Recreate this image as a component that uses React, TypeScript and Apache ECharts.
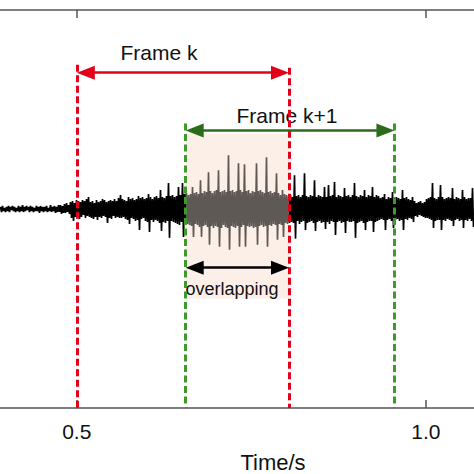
import React, { useEffect, useRef } from "react";
import * as echarts from "echarts";

// Time axis
const X_MIN = 0.39;
const X_MAX = 1.069;
const TICKS = [0.5, 1.0];
const SAMPLE_STEP = (X_MAX - X_MIN) / 474; // seconds per sample

// Frame boundaries (s)
const FRAME_K = [0.5, 0.804];
const FRAME_K1 = [0.656, 0.955];

// Waveform samples (arbitrary amplitude units)
const wavA = [2,-3,3,-2,1,-3,2,-2,3,-3,2,-1,3,-2,2,-3,1,-2,3,-3,2,-2,4,-3,2,-2,3,-1,2,-3,3,-2,2,-3,1,-2,3,-2,2,-4,3,-2,2,-3,2,-2,3,-3,1,-2,4,-3,2,-2,3,-4,2,-3,4,-3];
const wavB = [4,-5,3,-4,5,-4,6,-3,4,-5,
  7,-9,8,-12,6,-8,9,-7,8,-10,
  7,-8,9,-6,8,-9,10,-7,12,-8,
  7,-9,8,-10,6,-8,9,-11,7,-8,
  8,-9,10,-7,9,-8,7,-14,8,-9,
  9,-10,8,-7,10,-9,8,-8,11,-9];
const wavC = [14,-9,10,-8,9,-10,8,-11,12,-15,
  10,-9,11,-10,9,-12,10,-11,13,-21,
  11,-10,12,-9,10,-12,11,-13,15,-23,
  12,-11,10,-13,12,-11,13,-12,11,-14,
  19,-22,12,-13,11,-14,13,-12,26,-29,
  13,-12,14,-13,12,-14,13,-15,22,-16,
  14,-13,26,-28,15,-14];
const wavD = [16,-15,14,-16,15,-17,22,-28,16,-15,
  17,-16,15,-18,29,-28,16,-17,18,-16,
  17,-18,37,-36,18,-17,16,-19,18,-17,
  19,-18,39,-38,17,-19,18,-16,19,-18,
  17,-19,54,-41,18,-17,19,-18,17,-19,
  18,-17,46,-38,19,-18,17,-16,45,-38,
  18,-17,19,-18,16,-17,18,-19,17,-18,
  46,-36,18,-17,19,-16,17,-18,16,-17,
  52,-38,17,-16,18,-17,16,-15,17,-16,
  36,-31,16,-15,14,-16,19,-28,15,-14,
  14,-15,13,-14];
const wavE = [14,-13,12,-14,34,-30,13,-12,14,-15,
  12,-13,14,-12,36,-21,13,-14,12,-13,
  14,-12,13,-14,29,-22,12,-13,14,-12,
  13,-14,12,-13,22,-20,12,-13,24,-15,
  13,-12,14,-13,27,-26,12,-13,14,-12,
  13,-14,12,-13,21,-24,13,-12,14,-13,
  12,-13,14,-12,26,-29,13,-14,12,-13,
  14,-12,13,-14,19,-21,12,-13,14,-12,
  13,-12,22,-23,12,-13,14,-12,13,-11];
const wavF = [11,-10,12,-11,15,-21,10,-11,12,-10,
  11,-12,17,-19,10,-11,12,-10,11,-12,
  10,-11,19,-21,11,-10,12,-11,10,-9,
  9,-10,12,-13,8,-7,6,-8,7,-6,
  8,-7,6,-8,7,-9,10,-9,11,-10,
  12,-11,26,-19,11,-12,10,-11,12,-11,
  24,-21,12,-11,10,-12,11,-10,12,-11,
  11,-12,21,-17,10,-11,12,-10,11,-12,
  10,-11,19,-19,12,-11,10,-12,11,-10,
  11,-12,21,-18];

const FONT = "'Liberation Sans', Arial, sans-serif";

export default function App() {
  const ref = useRef<HTMLDivElement>(null);
  useEffect(() => {
    if (!ref.current) return;
    const chart = echarts.init(ref.current, null, { renderer: "svg" });
    const samples = [...wavA, ...wavB, ...wavC, ...wavD, ...wavE, ...wavF];
    const wave = samples.map((v, i) => [X_MIN + (i + 0.5) * SAMPLE_STEP, v]);

    const red = "#e2001a";
    const green = "#3f9a2c";
    const darkGreen = "#2c6a1c";
    const dash = [7, 3.5];
    const ARROW = [14, 18];
    // half the arrowhead length, in seconds, so the tips touch the frame edges
    const tipPad = (ARROW[1] / 2) * SAMPLE_STEP;

    const vLine = (x: number, top: number, color: string) => [
      { coord: [x, top], lineStyle: { color, width: 3, type: dash } },
      { coord: [x, -200] },
    ];
    const arrow = (x0: number, x1: number, y: number, color: string) => [
      { coord: [x0 + tipPad, y], lineStyle: { color, width: 2.5, type: "solid" }, itemStyle: { color } },
      { coord: [x1 - tipPad, y], itemStyle: { color } },
    ];

    const axisCommon = {
      type: "value",
      min: X_MIN,
      max: X_MAX,
      splitLine: { show: false },
      axisLine: { show: true, onZero: false, lineStyle: { color: "#555", width: 1.5 } },
      axisTick: { show: true, inside: true, length: 8, customValues: TICKS, lineStyle: { color: "#555", width: 1.5 } },
    };

    chart.setOption({
      animation: false,
      grid: { left: 0, right: 0, top: 10, bottom: 66 },
      xAxis: [
        {
          ...axisCommon,
          position: "bottom",
          axisLabel: {
            customValues: TICKS,
            formatter: (v: number) => v.toFixed(1),
            fontSize: 21,
            color: "#111",
            fontFamily: FONT,
            margin: 13,
          },
        },
        { ...axisCommon, position: "top", axisLabel: { show: false } },
      ],
      yAxis: { type: "value", min: -200, max: 200, show: false },
      visualMap: {
        type: "piecewise",
        show: false,
        dimension: 0,
        seriesIndex: 1,
        pieces: [
          { lt: FRAME_K1[0], color: "#000" },
          { gte: FRAME_K1[0], lte: FRAME_K[1], color: "#5f5956" },
          { gt: FRAME_K[1], color: "#000" },
        ],
      },
      series: [
        {
          type: "line",
          data: [],
          z: 1,
          silent: true,
          markArea: {
            silent: true,
            itemStyle: { color: "#fcefe8" },
            data: [[{ coord: [FRAME_K1[0], 76] }, { coord: [FRAME_K[1], -90] }]],
          },
        },
        {
          type: "line",
          data: wave,
          z: 2,
          showSymbol: false,
          symbol: "none",
          lineStyle: { width: 1.7 },
        },
        {
          type: "line",
          data: [],
          z: 5,
          markLine: {
            silent: true,
            symbol: "none",
            label: { show: false },
            data: [
              vLine(FRAME_K[0], 145, red),
              vLine(FRAME_K[1], 142, red),
              vLine(FRAME_K1[0], 86, green),
              vLine(FRAME_K1[1], 86, green),
            ],
          },
        },
        {
          type: "line",
          data: [],
          z: 6,
          markLine: {
            silent: true,
            symbol: ["triangle", "triangle"],
            symbolSize: ARROW,
            label: { show: false },
            data: [
              arrow(FRAME_K[0], FRAME_K[1], 137, red),
              arrow(FRAME_K1[0], FRAME_K1[1], 79, darkGreen),
              arrow(FRAME_K1[0], FRAME_K[1], -59, "#000"),
            ],
          },
        },
      ],
      graphic: [
        { type: "text", z: 3, x: 159, y: 52, style: { text: "Frame k", fontSize: 21, fontFamily: FONT, fill: "#111", align: "center", verticalAlign: "middle" } },
        { type: "text", z: 3, x: 287, y: 115, style: { text: "Frame k+1", fontSize: 21, fontFamily: FONT, fill: "#111", align: "center", verticalAlign: "middle" } },
        { type: "text", z: 3, x: 232, y: 289, style: { text: "overlapping", fontSize: 18, fontFamily: FONT, fill: "#111", align: "center", verticalAlign: "middle" } },
        { type: "text", z: 3, x: 273, y: 462, style: { text: "Time/s", fontSize: 22, fontFamily: FONT, fill: "#111", align: "center", verticalAlign: "middle" } },
      ],
    });
    return () => chart.dispose();
  }, []);
  return (
    <div
      ref={ref}
      style={{ position: "fixed", left: 0, top: 0, width: 474, height: 474, background: "#fff" }}
    />
  );
}
